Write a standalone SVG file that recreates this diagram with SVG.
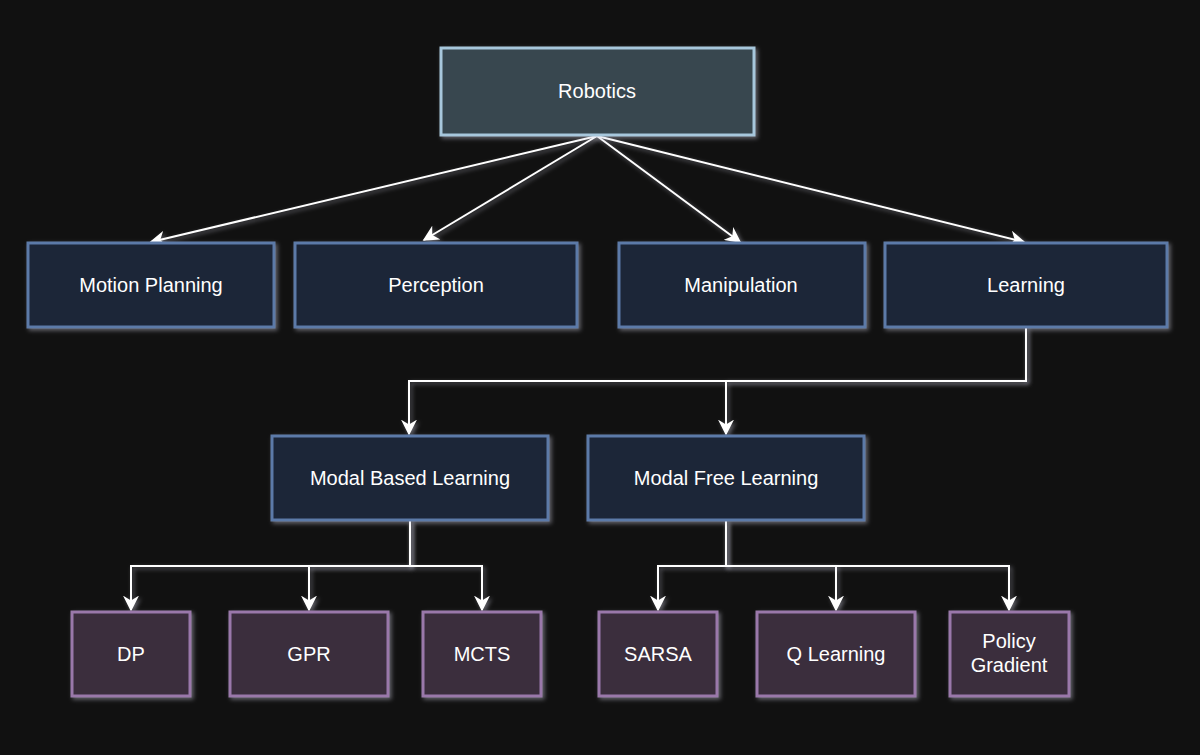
<svg xmlns="http://www.w3.org/2000/svg" width="1200" height="755" viewBox="0 0 1200 755">
<defs>
<filter id="glow" x="-20%" y="-20%" width="140%" height="140%"><feDropShadow dx="2" dy="2" stdDeviation="2" flood-color="#ccd" flood-opacity="0.45"/></filter>
<marker id="ah" viewBox="0 0 10 10" refX="9" refY="5" markerWidth="16" markerHeight="16" markerUnits="userSpaceOnUse" orient="auto"><path d="M0,0 L10,5 L0,10 L3,5 z" fill="#fff"/></marker>
</defs>
<style>
rect{stroke-width:3;filter:url(#glow)}
.r{fill:#37474f;stroke:#a7c7dc}
.b{fill:#1c2639;stroke:#5b7aa8}
.p{fill:#3a2d3e;stroke:#9a78aa}
text{font-family:"Liberation Sans",Arial,sans-serif;font-size:20px;fill:#fff;text-anchor:middle}
#edges path{fill:none;stroke:#fff;stroke-width:2;marker-end:url(#ah);filter:url(#glow)}
</style>
<rect width="1200" height="755" fill="#111" style="filter:none;stroke:none"/>
<g id="edges">
<path d="M597,136 L151,242"/>
<path d="M597,136 L424,240"/>
<path d="M597,136 L740,242"/>
<path d="M597,136 L1024,242"/>
<path d="M1026,328 V381 H409 V434"/>
<path d="M1026,328 V381 H726 V434"/>
<path d="M410,521 V566 H131 V610"/>
<path d="M410,521 V566 H309 V610"/>
<path d="M410,521 V566 H482 V610"/>
<path d="M726,521 V566 H658 V610"/>
<path d="M726,521 V566 H836 V610"/>
<path d="M726,521 V566 H1009 V610"/>
</g>
<g id="robotics"><rect class="r" x="441" y="48" width="313" height="87"/><text x="597" y="98">Robotics</text></g>
<g id="motion"><rect class="b" x="28" y="243" width="246" height="84"/><text x="151" y="292">Motion Planning</text></g>
<g id="perception"><rect class="b" x="295" y="243" width="282" height="84"/><text x="436" y="292">Perception</text></g>
<g id="manipulation"><rect class="b" x="619" y="243" width="246" height="84"/><text x="741" y="292">Manipulation</text></g>
<g id="learning"><rect class="b" x="885" y="243" width="282" height="84"/><text x="1026" y="292">Learning</text></g>
<g id="mbl"><rect class="b" x="272" y="436" width="276" height="84"/><text x="410" y="485">Modal Based Learning</text></g>
<g id="mfl"><rect class="b" x="588" y="436" width="276" height="84"/><text x="726" y="485">Modal Free Learning</text></g>
<g id="dp"><rect class="p" x="72" y="612" width="118" height="84"/><text x="131" y="661">DP</text></g>
<g id="gpr"><rect class="p" x="230" y="612" width="158" height="84"/><text x="309" y="661">GPR</text></g>
<g id="mcts"><rect class="p" x="423" y="612" width="118" height="84"/><text x="482" y="661">MCTS</text></g>
<g id="sarsa"><rect class="p" x="599" y="612" width="118" height="84"/><text x="658" y="661">SARSA</text></g>
<g id="q"><rect class="p" x="757" y="612" width="158" height="84"/><text x="836" y="661">Q Learning</text></g>
<g id="pg"><rect class="p" x="950" y="612" width="119" height="84"/><text x="1009" y="648">Policy</text><text x="1009" y="672">Gradient</text></g>
</svg>
